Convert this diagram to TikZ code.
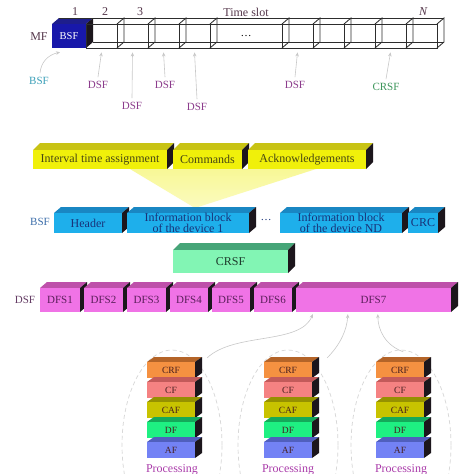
\documentclass[tikz,border=0pt]{standalone}
\usepackage{fontspec}
\setmainfont{Liberation Serif}
\usetikzlibrary{shapes.geometric,arrows.meta}
\definecolor{bluebox}{RGB}{24,24,170}
\definecolor{blueboxtop}{RGB}{30,30,140}
\definecolor{sidec}{RGB}{28,22,28}
\definecolor{yelf}{RGB}{240,240,10}
\definecolor{yelt}{RGB}{200,195,20}
\definecolor{fanc}{RGB}{248,248,150}
\definecolor{cyf}{RGB}{30,175,235}
\definecolor{cyt}{RGB}{25,135,195}
\definecolor{grf}{RGB}{130,245,180}
\definecolor{grt}{RGB}{70,165,120}
\definecolor{mgf}{RGB}{240,115,230}
\definecolor{mgt}{RGB}{190,80,170}
\definecolor{orf}{RGB}{245,145,65}
\definecolor{ort}{RGB}{180,100,40}
\definecolor{pkf}{RGB}{245,130,130}
\definecolor{pkt}{RGB}{195,90,90}
\definecolor{olf}{RGB}{200,195,0}
\definecolor{olt}{RGB}{150,145,0}
\definecolor{dgf}{RGB}{30,240,130}
\definecolor{dgt}{RGB}{20,170,90}
\definecolor{vif}{RGB}{115,130,245}
\definecolor{vit}{RGB}{80,95,190}
\definecolor{txtmf}{RGB}{85,55,75}
\definecolor{bsflab}{RGB}{60,160,185}
\definecolor{dsflab}{RGB}{140,60,140}
\definecolor{crsflab}{RGB}{60,150,90}
\definecolor{bsfrow}{RGB}{60,110,170}
\definecolor{dsfrow}{RGB}{100,60,100}
\definecolor{ytext}{RGB}{70,70,20}
\definecolor{ctext}{RGB}{25,50,120}
\definecolor{gtext}{RGB}{30,60,45}
\definecolor{mtext}{RGB}{90,30,90}
\definecolor{stext}{RGB}{70,30,30}
\definecolor{proc}{RGB}{170,60,170}
\definecolor{wirec}{RGB}{45,45,45}
\definecolor{arrc}{RGB}{200,200,200}
\definecolor{ellc}{RGB}{215,215,215}
\def\dx{7}\def\dy{6}
% name, x1, y1, x2, y2, front colour, top colour, text options, text
\newcommand\cub[9]{%
  \fill[#7] (#2,#3) -- ++(\dx,-\dy) -- ({#4+\dx},{#3-\dy}) -- (#4,#3) -- cycle;
  \fill[sidec] (#4,#3) -- ++(\dx,-\dy) -- ({#4+\dx},{#5-\dy}) -- (#4,#5) -- cycle;
  \node[fill=#6, inner sep=0pt, minimum width={(#4-#2)*1pt}, minimum height={(#5-#3)*1pt}, align=center, #8] (#1) at ({(#2+#4)/2},{(#3+#5)/2}) {#9};
}
\newcommand\stackof[2]{%
  \cub{crf#1}{#2}{362}{#2+48}{378}{orf}{ort}{stk}{CRF}
  \cub{cf#1}{#2}{382}{#2+48}{398}{pkf}{pkt}{stk}{CF}
  \cub{caf#1}{#2}{402}{#2+48}{418}{olf}{olt}{stk}{CAF}
  \cub{df#1}{#2}{422}{#2+48}{438}{dgf}{dgt}{stk}{DF}
  \cub{af#1}{#2}{442}{#2+48}{458}{vif}{vit}{stk}{AF}
}
\begin{document}
\begin{tikzpicture}[x=1pt,y=-1pt,font=\fontsize{12}{10.5}\selectfont,
  wire/.style={draw=wirec,line width=0.85pt},
  slot/.style={wire,inner sep=0pt,minimum height=24pt},
  arr/.style={draw=arrc,line width=0.6pt,-{Stealth[length=4pt,width=3.5pt]}},
  lbl/.style={inner sep=1pt},
  small/.style={font=\fontsize{11}{11}\selectfont},
  stk/.style={text=stext,font=\fontsize{9.5}{10}\selectfont},
  dfs/.style={text=mtext,font=\fontsize{11}{11}\selectfont},
  dashell/.style={ellipse,draw=ellc,dashed,dash pattern=on 4pt off 3pt,line width=0.7pt,minimum width=100pt,minimum height=190pt}]
\useasboundingbox (0,0) rectangle (474,474);
\fill[white] (0,0) rectangle (474,474);
% ---------- MF strip ----------
\cub{s1}{52}{24}{86}{48}{bluebox}{blueboxtop}{text=white,font=\fontsize{10.5}{11}\selectfont}{BSF}
\draw[wire] (59,18) -- (444,18);
\draw[wire] (93,42) -- (444,42);
\node[slot,minimum width=31pt] (s2) at (101.5,36) {};
\node[slot,minimum width=31pt] (s3) at (132.5,36) {};
\node[slot,minimum width=31pt] (s4) at (163.5,36) {};
\node[slot,minimum width=31pt] (s5) at (194.5,36) {};
\node[slot,minimum width=72pt,small] (s6) at (246,36) {\dots};
\node[slot,minimum width=31pt] (s7) at (297.5,36) {};
\node[slot,minimum width=31pt] (s8) at (328.5,36) {};
\node[slot,minimum width=31pt] (s9) at (359.5,36) {};
\node[slot,minimum width=31pt] (s10) at (390.5,36) {};
\node[slot,minimum width=31pt] (s11) at (421.5,36) {};
\foreach \x in {117,148,179,210,282,313,344,375,406,437}
  \draw[wire] (\x,24) -- ++(7,-6) -- ++(0,24) -- (\x,48);
\node[lbl,text=txtmf] (mf) at (39,37) {MF};
\node[lbl,text=txtmf] (n1) at (75,12) {1};
\node[lbl,text=txtmf] (n2) at (105,12) {2};
\node[lbl,text=txtmf] (n3) at (140,12) {3};
\node[lbl,text=txtmf] (ts) at (246,12) {Time slot};
\node[lbl,text=txtmf] (nN) at (423,12) {\itshape N};
% labels under strip
\node[lbl,small,text=bsflab] (lb) at (39,81) {BSF};
\node[lbl,small,text=dsflab] (d1) at (98,85) {DSF};
\node[lbl,small,text=dsflab] (d2) at (132,106) {DSF};
\node[lbl,small,text=dsflab] (d3) at (165,85) {DSF};
\node[lbl,small,text=dsflab] (d4) at (197,107) {DSF};
\node[lbl,small,text=dsflab] (d5) at (295,85) {DSF};
\node[lbl,small,text=crsflab] (lc) at (386,87) {CRSF};
\draw[arr] ([shift={(1,-3)}]lb.north) .. controls (41,62) and (48,55) .. ([shift={(-9,4)}]s1.south);
\draw[arr] ([shift={(0,-3)}]d1.north) -- ([shift={(0,4)}]s2.south);
\draw[arr] ([shift={(0,-3)}]d2.north) -- ([shift={(0,4)}]s3.south);
\draw[arr] ([shift={(0,-3)}]d3.north) -- ([shift={(0,4)}]s4.south);
\draw[arr] ([shift={(0,-3)}]d4.north) -- ([shift={(0,4)}]s5.south);
\draw[arr] ([shift={(0,-3)}]d5.north) -- ([shift={(0,4)}]s7.south);
\draw[arr] ([shift={(0,-3)}]lc.north) -- ([shift={(0,4)}]s10.south);
% ---------- yellow bar and fan ----------
\shade[top color=fanc, bottom color=fanc!60] (130,169) -- (316,169) -- (195,208) -- cycle;
\def\dy{7}
\cub{int}{33}{150}{167}{169}{yelf}{yelt}{text=ytext}{Interval time assignment}
\cub{cmd}{173}{150}{242}{169}{yelf}{yelt}{text=ytext}{Commands}
\cub{ack}{248}{150}{366}{169}{yelf}{yelt}{text=ytext}{Acknowledgements}
% ---------- BSF row ----------
\def\dy{6}
\node[lbl,text=bsfrow,small] (lbsf) at (40,222) {BSF};
\cub{hdr}{54}{213}{122}{233}{cyf}{cyt}{text=ctext}{Header}
\cub{ib1}{127}{213}{249}{233}{cyf}{cyt}{text=ctext}{Information block\\of the device 1}
\node[lbl,text=ctext,small] (bdots) at (266,220) {\dots};
\cub{ibn}{280}{213}{402}{233}{cyf}{cyt}{text=ctext}{Information block\\of the device ND}
\cub{crc}{408}{213}{438}{233}{cyf}{cyt}{text=ctext}{CRC}
% ---------- CRSF ----------
\def\dy{7}
\cub{crsf}{173}{250}{288}{273}{grf}{grt}{text=gtext}{CRSF}
% ---------- DSF row ----------
\def\dy{6}
\node[lbl,text=dsfrow,small] (ldsf) at (25,300) {DSF};
\cub{dfs1}{40}{288}{80}{312}{mgf}{mgt}{dfs}{DFS1}
\cub{dfs2}{84}{288}{123}{312}{mgf}{mgt}{dfs}{DFS2}
\cub{dfs3}{127}{288}{166}{312}{mgf}{mgt}{dfs}{DFS3}
\cub{dfs4}{170}{288}{208}{312}{mgf}{mgt}{dfs}{DFS4}
\cub{dfs5}{212}{288}{250}{312}{mgf}{mgt}{dfs}{DFS5}
\cub{dfs6}{254}{288}{292}{312}{mgf}{mgt}{dfs}{DFS6}
\cub{dfs7}{296}{288}{451}{312}{mgf}{mgt}{dfs}{DFS7}
% ---------- processing stacks ----------
\node[dashell] (e1) at (172,445) {};
\node[dashell] (e2) at (288,445) {};
\node[dashell] (e3) at (401,445) {};
\def\dy{5}
\stackof{1}{147}
\stackof{2}{264}
\stackof{3}{376}
\node[lbl,text=proc] (p1) at (172,470) {Processing};
\node[lbl,text=proc] (p2) at (288,470) {Processing};
\node[lbl,text=proc] (p3) at (401,470) {Processing};
\draw[arr] ([shift={(12,-4)}]crf1.north east) .. controls (235,332) and (300,345) .. ([shift={(17,2)}]dfs7.south west);
\draw[arr] ([shift={(15,-4)}]crf2.north east) .. controls (340,345) and (347,330) .. ([shift={(52,2)}]dfs7.south west);
\draw[arr] ([shift={(-21,-10)}]crf3.north east) .. controls (385,345) and (378,330) .. ([shift={(82,2)}]dfs7.south west);
\end{tikzpicture}
\end{document}
